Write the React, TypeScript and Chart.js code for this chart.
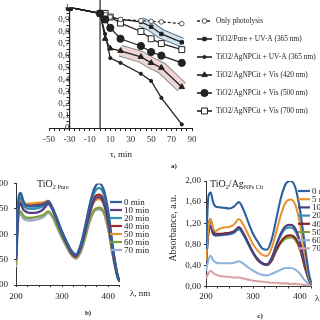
import React, { useEffect, useRef } from 'react';
import { Chart, registerables } from 'chart.js';

Chart.register(...registerables);

const SERIF = '"Liberation Serif", "DejaVu Serif", serif';
const INK = '#222';

// ---------- (a) relative TC concentration vs time ----------
const tau = [-30, 0, 5, 10, 20, 40, 50, 60, 80];
const onlyPhotolysis = [1.0, 0.95, 0.94, 0.92, 0.9, 0.89, 0.885, 0.88, 0.865];
const pureUvA = [1.0, 0.95, 0.93, 0.92, 0.9, 0.88, 0.84, 0.78, 0.71];
const agUvA = [1.0, 0.95, 0.78, 0.58, 0.54, 0.45, 0.39, 0.25, 0.03];
const ag420 = [1.0, 0.95, 0.74, 0.66, 0.64, 0.59, 0.54, 0.5, 0.34];
const ag500 = [1.0, 0.95, 0.9, 0.83, 0.74, 0.68, 0.63, 0.6, 0.54];
const ag700 = [1.0, 0.95, 0.95, 0.92, 0.87, 0.8, 0.74, 0.7, 0.65];
const kineticNames = [
  'Only photolysis',
  'TiO2/Pure + UV-A (365 nm)',
  'TiO2/AgNPCit + UV-A (365 nm)',
  'TiO2/AgNPCit + Vis (420 nm)',
  'TiO2/AgNPCit + Vis (500 nm)',
  'TiO2/AgNPCit + Vis (700 nm)',
];

// ---------- (b), (c) absorption spectra ----------
const lambda = [200, 205, 210, 215, 220, 230, 240, 250, 260, 270, 280, 290, 300, 310, 320, 330, 340, 350, 360, 370, 380, 390, 400, 410, 420, 425];

const pureNames = ['0 min', '10 min', '20 min', '40 min', '50 min', '60 min', '70 min'];
const pure0 = [0.6, 1.65, 1.81, 1.68, 1.58, 1.55, 1.55, 1.56, 1.58, 1.65, 1.5, 1.28, 1.05, 0.85, 0.68, 0.6, 0.78, 1.15, 1.58, 1.9, 2.0, 1.88, 1.45, 0.75, 0.2, 0.08];
const pure10 = [0.5, 1.45, 1.6, 1.5, 1.45, 1.42, 1.42, 1.44, 1.5, 1.6, 1.47, 1.25, 1.02, 0.82, 0.65, 0.57, 0.73, 1.05, 1.42, 1.68, 1.73, 1.62, 1.25, 0.65, 0.18, 0.07];
const pure20 = [0.55, 1.55, 1.72, 1.6, 1.53, 1.5, 1.5, 1.52, 1.55, 1.6, 1.48, 1.26, 1.03, 0.83, 0.66, 0.58, 0.76, 1.12, 1.52, 1.82, 1.91, 1.8, 1.38, 0.72, 0.2, 0.08];
const pure40 = [0.5, 1.5, 1.62, 1.58, 1.56, 1.56, 1.57, 1.58, 1.6, 1.62, 1.48, 1.25, 1.02, 0.82, 0.64, 0.56, 0.73, 1.07, 1.45, 1.72, 1.78, 1.68, 1.3, 0.68, 0.19, 0.07];
const pure50 = [0.55, 1.55, 1.68, 1.62, 1.6, 1.6, 1.61, 1.62, 1.63, 1.66, 1.5, 1.26, 1.02, 0.82, 0.64, 0.55, 0.72, 1.05, 1.42, 1.65, 1.69, 1.6, 1.25, 0.66, 0.18, 0.07];
const pure60 = [0.4, 1.35, 1.45, 1.38, 1.33, 1.32, 1.33, 1.35, 1.38, 1.45, 1.35, 1.14, 0.94, 0.76, 0.6, 0.53, 0.66, 0.95, 1.28, 1.48, 1.52, 1.45, 1.12, 0.6, 0.17, 0.06];
const pure70 = [0.35, 1.3, 1.4, 1.32, 1.28, 1.27, 1.28, 1.3, 1.34, 1.42, 1.32, 1.12, 0.92, 0.75, 0.59, 0.52, 0.64, 0.92, 1.25, 1.45, 1.49, 1.42, 1.1, 0.58, 0.16, 0.06];
const pureColors = ['#2f5f9c', '#5a3d7e', '#3a91b3', '#9c2f2a', '#e89433', '#80a03e', '#a3a8d6'];

const citNames = ['0 min', '5 min', '10 min', '20 min', '40 min', '50 min', '60 min', '70 min'];
const cit0 = [0.7, 1.7, 1.78, 1.6, 1.52, 1.5, 1.49, 1.48, 1.52, 1.6, 1.45, 1.22, 1.0, 0.85, 0.72, 0.7, 0.9, 1.3, 1.7, 1.95, 2.0, 1.88, 1.45, 0.8, 0.2, 0.07];
const cit5 = [0.5, 1.1, 1.27, 1.1, 1.05, 1.1, 1.12, 1.13, 1.18, 1.28, 1.16, 0.98, 0.8, 0.68, 0.6, 0.58, 0.74, 1.05, 1.38, 1.6, 1.65, 1.55, 1.18, 0.62, 0.15, 0.05];
const cit10 = [0.45, 1.0, 1.15, 1.0, 0.97, 0.98, 0.99, 1.0, 1.04, 1.12, 1.0, 0.82, 0.65, 0.52, 0.44, 0.42, 0.55, 0.8, 1.02, 1.15, 1.17, 1.1, 0.85, 0.45, 0.12, 0.04];
const cit20 = [0.45, 1.0, 1.12, 1.0, 0.97, 0.97, 0.98, 0.99, 1.02, 1.08, 0.97, 0.8, 0.64, 0.52, 0.44, 0.42, 0.54, 0.78, 0.98, 1.1, 1.12, 1.05, 0.82, 0.44, 0.12, 0.04];
const cit40 = [0.5, 1.1, 1.25, 1.05, 1.0, 1.0, 1.01, 1.02, 1.05, 1.12, 1.0, 0.82, 0.64, 0.5, 0.43, 0.41, 0.5, 0.7, 0.86, 0.95, 0.97, 0.92, 0.72, 0.38, 0.1, 0.04];
const cit50 = [0.5, 1.15, 1.28, 1.08, 1.0, 0.99, 1.0, 1.01, 1.04, 1.1, 0.98, 0.8, 0.63, 0.5, 0.43, 0.41, 0.49, 0.68, 0.83, 0.91, 0.93, 0.88, 0.7, 0.37, 0.1, 0.04];
const cit60 = [0.3, 0.5, 0.58, 0.5, 0.46, 0.44, 0.44, 0.44, 0.45, 0.48, 0.43, 0.36, 0.3, 0.25, 0.22, 0.21, 0.24, 0.28, 0.32, 0.35, 0.35, 0.32, 0.24, 0.12, 0.04, 0.02];
const cit70 = [0.15, 0.25, 0.3, 0.26, 0.23, 0.2, 0.19, 0.18, 0.17, 0.17, 0.15, 0.13, 0.11, 0.1, 0.09, 0.08, 0.07, 0.07, 0.06, 0.06, 0.05, 0.05, 0.04, 0.03, 0.02, 0.02];
const citColors = ['#2f5f9c', '#e89433', '#4a3f7e', '#3a91b3', '#8e2424', '#7fa63c', '#8fb3da', '#d9a3a3'];

type Marker = { shape: string; r: number; fill: string; stroke: string; dash?: number[] };

const kineticStyles: Marker[] = [
  { shape: 'circle', r: 2.3, fill: '#fff', stroke: '#555', dash: [3, 2] },
  { shape: 'rect', r: 2.4, fill: INK, stroke: INK },
  { shape: 'circle', r: 1.6, fill: INK, stroke: INK },
  { shape: 'triangle', r: 3.2, fill: INK, stroke: INK },
  { shape: 'circle', r: 3.6, fill: INK, stroke: INK },
  { shape: 'rect', r: 4.2, fill: '#fff', stroke: INK },
];
const kineticValues = [onlyPhotolysis, pureUvA, agUvA, ag420, ag500, ag700];

function drawMarker(ctx: CanvasRenderingContext2D, m: Marker, x: number, y: number) {
  ctx.beginPath();
  if (m.shape === 'circle') {
    ctx.arc(x, y, m.r, 0, Math.PI * 2);
  } else if (m.shape === 'rect') {
    const s = m.r * Math.SQRT1_2;
    ctx.rect(x - s, y - s, 2 * s, 2 * s);
  } else {
    for (let k = 0; k < 3; k++) {
      const a = (k * 2 * Math.PI) / 3;
      const px = x + Math.sin(a) * m.r;
      const py = y - Math.cos(a) * m.r;
      if (k === 0) ctx.moveTo(px, py);
      else ctx.lineTo(px, py);
    }
    ctx.closePath();
  }
  ctx.setLineDash([]);
  ctx.fillStyle = m.fill;
  ctx.fill();
  ctx.lineWidth = 1;
  ctx.strokeStyle = m.stroke;
  ctx.stroke();
}

// text with subscript runs: [text, isSub]
function drawRich(ctx: CanvasRenderingContext2D, parts: [string, boolean][], x: number, y: number, size: number) {
  let cx = x;
  ctx.textAlign = 'left';
  ctx.textBaseline = 'alphabetic';
  for (const [t, sub] of parts) {
    ctx.font = `${sub ? size * 0.62 : size}px ${SERIF}`;
    ctx.fillText(t, cx, sub ? y + size * 0.22 : y);
    cx += ctx.measureText(t).width;
  }
}

function kineticConfig(): any {
  const pts = (vals: number[], from = 0) => tau.map((t, i) => ({ x: t, y: vals[i] })).slice(from);
  const series = kineticValues.map((vals, i) => {
    const m = kineticStyles[i];
    return {
      label: kineticNames[i],
      data: pts(vals),
      borderColor: INK,
      borderWidth: 1.3,
      borderDash: m.dash || [],
      pointStyle: m.shape,
      pointRadius: m.r,
      pointBackgroundColor: m.fill,
      pointBorderColor: m.stroke,
      pointBorderWidth: 1,
      order: i === 4 ? -1 : 0,
    };
  });
  const band = (vals: number[], from: number, width: number, color: string, order: number) => ({
    label: '',
    data: pts(vals, from),
    borderColor: color,
    borderWidth: width,
    borderCapStyle: 'butt',
    borderJoinStyle: 'round',
    pointRadius: 0,
    order,
  });
  const bands = [
    band(ag420, 4, 12, '#8d8585', 10),
    band(ag420, 4, 10, '#efd6d6', 9),
    band(pureUvA, 5, 10, '#5f7482', 8),
    band(pureUvA, 5, 8, '#d3e4ee', 7),
  ];

  const decor = {
    id: 'kineticDecor',
    beforeDatasetsDraw(chart: any) {
      const { ctx, chartArea, scales } = chart;
      const x0 = scales.x.getPixelForValue(0);
      ctx.save();
      ctx.strokeStyle = INK;
      ctx.lineWidth = 1.2;
      ctx.beginPath();
      ctx.moveTo(x0, 0);
      ctx.lineTo(x0, chartArea.bottom);
      ctx.stroke();
      ctx.restore();
    },
    afterDraw(chart: any) {
      const { ctx, chartArea } = chart;
      ctx.save();
      // legend
      const lx = chartArea.right + 5;
      kineticNames.forEach((name, i) => {
        const m = kineticStyles[i];
        const y = 21 + i * 18;
        ctx.strokeStyle = INK;
        ctx.lineWidth = 1.6;
        ctx.setLineDash(m.dash || []);
        ctx.beginPath();
        ctx.moveTo(lx, y);
        ctx.lineTo(lx + 15, y);
        ctx.stroke();
        drawMarker(ctx, m, lx + 7.5, y);
        ctx.fillStyle = INK;
        ctx.font = `7.4px ${SERIF}`;
        ctx.textAlign = 'left';
        ctx.textBaseline = 'middle';
        ctx.fillText(name, lx + 19, y + 0.5);
      });
      // axis title and panel tag
      ctx.fillStyle = INK;
      ctx.font = `9px ${SERIF}`;
      ctx.textAlign = 'center';
      ctx.textBaseline = 'middle';
      ctx.fillText('τ, min', 121, 155);
      ctx.font = `bold 7px ${SERIF}`;
      ctx.fillText('a)', 174, 166);
      ctx.restore();
    },
  };

  const tickFont = { family: SERIF, size: 9 };
  return {
    type: 'line',
    data: { datasets: [...series, ...bands] },
    options: {
      responsive: false,
      animation: false,
      events: [],
      layout: { padding: { left: 49, right: 128, top: 4, bottom: 0 } },
      plugins: { legend: { display: false }, tooltip: { enabled: false } },
      scales: {
        x: {
          type: 'linear',
          min: -50,
          max: 90,
          afterFit(s: any) { s.height = 44; },
          border: { color: INK, width: 1 },
          grid: { drawOnChartArea: false, tickLength: 3, color: INK },
          ticks: {
            stepSize: 5,
            autoSkip: false,
            maxRotation: 0,
            padding: 3,
            color: '#333',
            font: tickFont,
            callback: (v: number) => (((v + 50) % 20 + 20) % 20 === 0 ? String(v) : ''),
          },
        },
        y: {
          min: 0,
          max: 1,
          position: { x: -30 },
          afterFit(s: any) { s.width = 0; },
          border: { color: INK, width: 1.2 },
          grid: { drawOnChartArea: false, tickLength: 2.5, color: INK },
          ticks: {
            stepSize: 0.05,
            autoSkip: false,
            padding: 2,
            color: '#333',
            font: tickFont,
            callback: (v: number) => {
              const k = Math.round(v * 100);
              if (k % 10) return '';
              if (k === 0) return '0';
              if (k === 100) return '1';
              return (k / 100).toFixed(1).replace('.', ',');
            },
          },
        },
      },
    },
    plugins: [decor],
  };
}

type Panel = {
  values: number[][];
  names: string[];
  colors: string[];
  yStep: number;
  yWidth: number;
  padRight: number;
  padTop: number;
  xHeight: number;
  lineWidth: number;
  yPad: number;
  xPad: number;
  legendX: number;
  legendY: number;
  legendStep: number;
  title: [string, boolean][];
  titleX: number;
  titleY: number;
  axisTitleX: number;
  axisTitleY: number;
  tag: string;
  tagX: number;
  tagY: number;
  yTitle?: string;
  yTitleX?: number;
  yTitleY?: number;
};

const panelB: Panel = {
  values: [pure0, pure10, pure20, pure40, pure50, pure60, pure70],
  names: pureNames,
  colors: pureColors,
  yStep: 0.5,
  yWidth: 56,
  padRight: 40.3,
  padTop: 10,
  xHeight: 35,
  lineWidth: 2.4,
  yPad: 6,
  xPad: 4,
  legendX: 150,
  legendY: 30,
  legendStep: 8,
  title: [['TiO', false], ['2 Pure', true]],
  titleX: 77,
  titleY: 15,
  axisTitleX: 170,
  axisTitleY: 122,
  tag: 'b)',
  tagX: 128,
  tagY: 141,
};

const panelC: Panel = {
  values: [cit0, cit5, cit10, cit20, cit40, cit50, cit60, cit70],
  names: citNames,
  colors: citColors,
  yStep: 0.4,
  yWidth: 46,
  padRight: 8.25,
  padTop: 9,
  xHeight: 33.5,
  lineWidth: 2.1,
  yPad: 3,
  xPad: 3,
  legendX: 138,
  legendY: 19,
  legendStep: 8.2,
  title: [['TiO', false], ['2', true], ['/Ag', false], ['NPs Cit', true]],
  titleX: 50,
  titleY: 15,
  axisTitleX: 155,
  axisTitleY: 127,
  tag: 'c)',
  tagX: 100,
  tagY: 144,
  yTitle: 'Absorbance, a.u.',
  yTitleX: 13,
  yTitleY: 56,
};

function spectrumConfig(p: Panel): any {
  const datasets = p.values.map((vals, i) => ({
    label: p.names[i],
    data: lambda.map((x, j) => ({ x, y: vals[j] })),
    borderColor: p.colors[i],
    borderWidth: p.lineWidth,
    pointRadius: 0,
    cubicInterpolationMode: 'monotone',
    fill: false,
  }));
  const decor = {
    id: 'spectrumDecor',
    afterDraw(chart: any) {
      const { ctx } = chart;
      ctx.save();
      p.names.forEach((name, i) => {
        const y = p.legendY + i * p.legendStep;
        ctx.strokeStyle = p.colors[i];
        ctx.lineWidth = 2.2;
        ctx.beginPath();
        ctx.moveTo(p.legendX, y);
        ctx.lineTo(p.legendX + 12, y);
        ctx.stroke();
        ctx.fillStyle = INK;
        ctx.font = `9px ${SERIF}`;
        ctx.textAlign = 'left';
        ctx.textBaseline = 'middle';
        ctx.fillText(name, p.legendX + 14, y + 0.5);
      });
      ctx.fillStyle = INK;
      drawRich(ctx, p.title, p.titleX, p.titleY, 10);
      ctx.font = `9px ${SERIF}`;
      ctx.textAlign = 'left';
      ctx.textBaseline = 'middle';
      ctx.fillText('λ, nm', p.axisTitleX, p.axisTitleY);
      ctx.font = `bold 7px ${SERIF}`;
      ctx.textAlign = 'center';
      ctx.fillText(p.tag, p.tagX, p.tagY);
      if (p.yTitle) {
        ctx.translate(p.yTitleX, p.yTitleY);
        ctx.rotate(-Math.PI / 2);
        ctx.font = `10px ${SERIF}`;
        ctx.textAlign = 'center';
        ctx.fillText(p.yTitle, 0, 0);
      }
      ctx.restore();
    },
  };
  const tickFont = { family: SERIF, size: 9 };
  return {
    type: 'line',
    data: { datasets },
    options: {
      responsive: false,
      animation: false,
      events: [],
      layout: { padding: { left: 0, right: p.padRight, top: p.padTop, bottom: 0 } },
      plugins: { legend: { display: false }, tooltip: { enabled: false } },
      scales: {
        x: {
          type: 'linear',
          min: 200,
          max: 425,
          afterFit(s: any) { s.height = p.xHeight; },
          border: { color: '#333', width: 1 },
          grid: { drawOnChartArea: false, tickLength: 2, color: '#333' },
          ticks: {
            stepSize: 25,
            autoSkip: false,
            maxRotation: 0,
            padding: p.xPad,
            color: INK,
            font: tickFont,
            callback: (v: number) => (v % 100 === 0 ? String(v) : ''),
          },
        },
        y: {
          min: 0,
          max: 2,
          afterFit(s: any) { s.width = p.yWidth; },
          border: { color: '#333', width: 1 },
          grid: { drawOnChartArea: false, tickLength: 2, color: '#333' },
          ticks: {
            stepSize: p.yStep,
            autoSkip: false,
            padding: p.yPad,
            color: INK,
            font: tickFont,
            callback: (v: number) => v.toFixed(2).replace('.', ','),
          },
        },
      },
    },
    plugins: [decor],
  };
}

export default function App() {
  const refA = useRef<HTMLCanvasElement>(null);
  const refB = useRef<HTMLCanvasElement>(null);
  const refC = useRef<HTMLCanvasElement>(null);

  useEffect(() => {
    const charts = [
      new Chart(refA.current as HTMLCanvasElement, kineticConfig()),
      new Chart(refB.current as HTMLCanvasElement, spectrumConfig(panelB)),
      new Chart(refC.current as HTMLCanvasElement, spectrumConfig(panelC)),
    ];
    return () => charts.forEach((c) => c.destroy());
  }, []);

  return (
    <div style={{ position: 'absolute', left: 0, top: 0, width: 320, height: 320, overflow: 'hidden', background: '#fff' }}>
      <canvas ref={refA} width={320} height={172} style={{ position: 'absolute', left: 0, top: 0 }} />
      <canvas ref={refB} width={200} height={148} style={{ position: 'absolute', left: -40, top: 172 }} />
      <canvas ref={refC} width={160} height={148} style={{ position: 'absolute', left: 160, top: 172 }} />
    </div>
  );
}
